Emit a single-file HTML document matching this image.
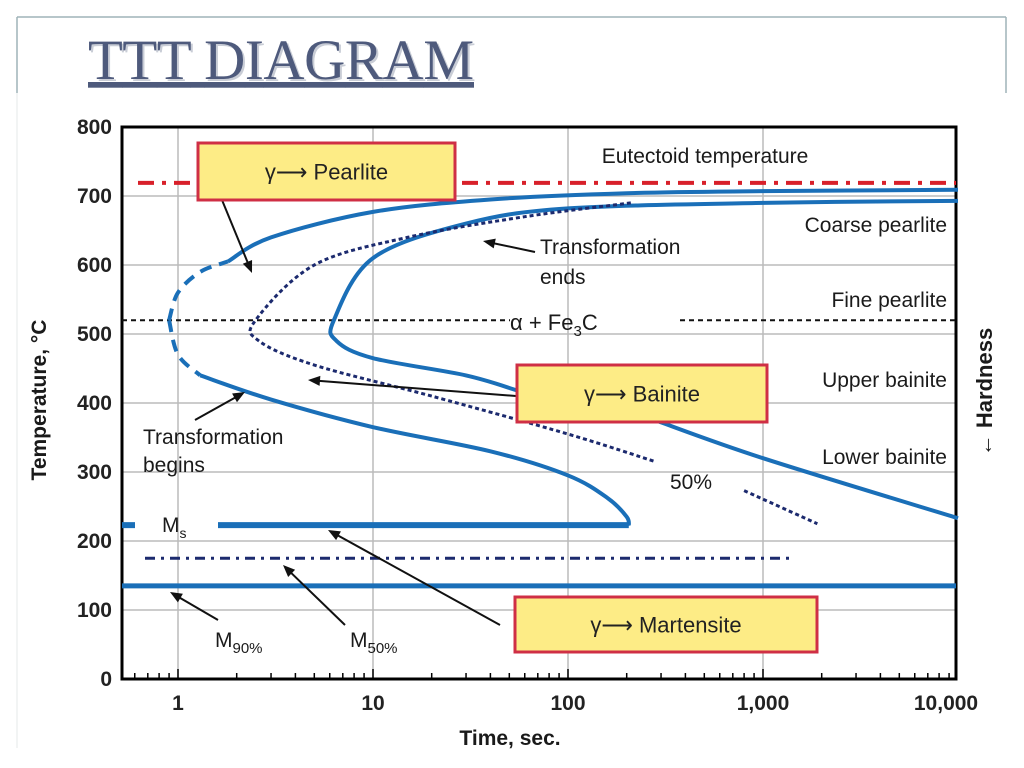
<!DOCTYPE html>
<html><head><meta charset="utf-8"><style>
body{margin:0;background:#fff;width:1024px;height:768px;overflow:hidden;font-family:"Liberation Sans",Arial,sans-serif}
svg{position:absolute;left:0;top:0}
</style></head><body>
<svg id="c" width="1024" height="768">
<line x1="17" y1="17" x2="1006" y2="17" stroke="#9fb3b8" stroke-width="1.5"/>
<line x1="17" y1="17" x2="17" y2="93" stroke="#9fb3b8" stroke-width="1.5"/>
<line x1="1006" y1="17" x2="1006" y2="93" stroke="#9fb3b8" stroke-width="1.5"/>
<line x1="17" y1="93" x2="17" y2="748" stroke="#e4e8ea" stroke-width="1"/>
<text x="90" y="81" font-family="Liberation Serif,serif" font-size="57" fill="#c9cdd6" textLength="386">TTT DIAGRAM</text>
<text x="88" y="79" font-family="Liberation Serif,serif" font-size="57" fill="#4e5a7c" textLength="386" text-decoration="underline">TTT DIAGRAM</text>
<g id="grid"></g>
<g id="marks"></g>
<g id="ann"></g>
</svg>
<script>
const ns="http://www.w3.org/2000/svg";
const xTicks=[1,10,100,1000,10000];
const xTickLabels=["1","10","100","1,000","10,000"];
const yTicks=[0,100,200,300,400,500,600,700,800];
const eutectoidT=[719];
const msT=[223];
const m50T=[175];
const m90T=[135];
const alphaFeT=[520];
// curves: times and temperatures
const beginUpperDashT=[0.9,1.0,1.3,1.8];
const beginUpperDashY=[520,560,590,605];
const beginUpperT=[1.8,3,10,40,200,1000,10000];
const beginUpperY=[605,640,677,695,704,707,709];
const beginLowerDashT=[0.9,1.0,1.3];
const beginLowerDashY=[520,470,440];
const beginLowerT=[1.3,3,10,40,100,160,200,205];
const beginLowerY=[440,405,365,330,295,262,235,222];
const endT=[10000,1000,100,30,10,6.3,6.5,10,30,55];
const endY=[693,690,682,660,610,520,490,465,440,418];
const endLowT=[280,1000,10000];
const endLowY=[375,320,233];
const halfT=[210,60,15,5,2.5,2.6,5,20,100,280];
const halfY=[690,670,640,600,520,490,455,410,355,315];
const halfLowT=[800,1900];
const halfLowY=[273,225];

const X0=178,DX=195,Y0=679,KY=0.69;
const sx=t=>X0+DX*Math.log10(t);
const sy=T=>Y0-KY*T;
const L=122,R=956,TOP=127,BOT=679;
function el(tag,a,p,txt){const e=document.createElementNS(ns,tag);for(const k in a)e.setAttribute(k,a[k]);if(txt!==undefined)e.textContent=txt;(p||document.getElementById('marks')).appendChild(e);return e;}
const grid=document.getElementById('grid'),ann=document.getElementById('ann');
xTicks.slice(0,4).forEach((t,i)=>{
  const g=el('line',{x1:sx(t),x2:sx(t),y1:TOP,y2:BOT,stroke:'#bbb','stroke-width':1.5},grid);
  
  
});
yTicks.forEach(T=>{
  if(T>0&&T<800){const g=el('line',{x1:L,x2:R,y1:sy(T),y2:sy(T),stroke:'#bbb','stroke-width':1.5},grid);
  
  }
  const lb=el('text',{x:112,y:sy(T)+7,'text-anchor':'end','font-size':21,fill:'#222','font-weight':'bold'},grid,String(T));
  
  
});
xTicks.forEach((t,i)=>{
  const lb=el('text',{x:sx(t)-(i==4?12:0),y:710,'text-anchor':'middle','font-size':21,fill:'#222','font-weight':'bold'},grid,xTickLabels[i]);
  
  
});
for(let e=-1;e<4;e++)for(let m=1;m<10;m++){const t=m*Math.pow(10,e);if(t<0.55||t>10000)continue;
  const tk=el('line',{x1:sx(t),x2:sx(t),y1:BOT,y2:BOT-(m==1?10:6),stroke:'#000','stroke-width':1.5},grid);
  
  }
const fr=el('rect',{x:L,y:TOP,width:R-L,height:BOT-TOP,fill:'none',stroke:'#000','stroke-width':3},grid);



function path(ts,Ts,style,name){
  const pts=ts.map((t,i)=>[sx(t),sy(Ts[i])]);
  let d='M'+pts[0][0]+','+pts[0][1];
  for(let i=0;i<pts.length-1;i++){const p0=pts[i-1]||pts[i],p1=pts[i],p2=pts[i+1],p3=pts[i+2]||p2;
    d+=' C'+(p1[0]+(p2[0]-p0[0])/6)+','+(p1[1]+(p2[1]-p0[1])/6)+' '+(p2[0]-(p3[0]-p1[0])/6)+','+(p2[1]-(p3[1]-p1[1])/6)+' '+p2[0]+','+p2[1];}
  const e=el('path',Object.assign({d:d,fill:'none'},style));
  
  
}
const blue={stroke:'#1a6fb8','stroke-width':4};
const navy={stroke:'#1c2a6e','stroke-width':3,'stroke-dasharray':'4 3'};
function hline(T,x1,x2,style,name){const e=el('line',Object.assign({x1:x1,x2:x2,y1:sy(T),y2:sy(T)},style));
  
  }
hline(alphaFeT[0],L,510,{stroke:'#111','stroke-width':2,'stroke-dasharray':'5 4'},'fine-dotted-line-left');
hline(alphaFeT[0],680,R,{stroke:'#111','stroke-width':2,'stroke-dasharray':'5 4'},'fine-dotted-line-right');
hline(eutectoidT[0],138,R,{stroke:'#d8202a','stroke-width':4,'stroke-dasharray':'16 8 4 8'},'eutectoid-line');
path(beginUpperDashT,beginUpperDashY,Object.assign({'stroke-dasharray':'12 8'},blue),'begin-curve-dashed-upper');
path(beginUpperT,beginUpperY,blue,'begin-curve-upper');
path(beginLowerDashT,beginLowerDashY,Object.assign({'stroke-dasharray':'12 8'},blue),'begin-curve-dashed-lower');
path(beginLowerT,beginLowerY,blue,'begin-curve-lower');
path(endT,endY,blue,'end-curve');
path(endLowT,endLowY,blue,'end-curve-lower');
path(halfT,halfY,navy,'fifty-percent-curve');
path(halfLowT,halfLowY,navy,'fifty-percent-curve-lower');
hline(msT[0],122,135,{stroke:'#1a6fb8','stroke-width':6},'ms-line-stub');
hline(msT[0],218,sx(205),{stroke:'#1a6fb8','stroke-width':6},'ms-line');
hline(m50T[0],145,795,{stroke:'#1c2a6e','stroke-width':3,'stroke-dasharray':'10 6 3 6'},'m50-line');
hline(m90T[0],L,R,{stroke:'#1a6fb8','stroke-width':5},'m90-line');

function box(x,y,w,h,label,name){
  const r=el('rect',{x:x,y:y,width:w,height:h,fill:'#fdec86',stroke:'#cf2f45','stroke-width':3},ann);
  
  
  const t=el('text',{x:x+w/2,y:y+h/2+8,'text-anchor':'middle','font-size':22,fill:'#222'},ann,label);
  
  
}
function arrow(x1,y1,x2,y2,name){
  const a=Math.atan2(y2-y1,x2-x1),s=12;
  const g=el('g',{},ann);
  
  
  el('line',{x1:x1,y1:y1,x2:x2-Math.cos(a)*s*0.8,y2:y2-Math.sin(a)*s*0.8,stroke:'#111','stroke-width':2},g);
  el('polygon',{points:`${x2},${y2} ${x2-s*Math.cos(a)+5*Math.sin(a)},${y2-s*Math.sin(a)-5*Math.cos(a)} ${x2-s*Math.cos(a)-5*Math.sin(a)},${y2-s*Math.sin(a)+5*Math.cos(a)}`,fill:'#111'},g);
}
arrow(222,200,252,273,'pearlite-arrow');
arrow(535,252,483,241,'transformation-ends-arrow');
arrow(516,396,308,380,'bainite-arrow');
arrow(195,420,245,392,'transformation-begins-arrow');
arrow(500,625,328,530,'martensite-arrow');
arrow(218,620,170,592,'m90-arrow');
arrow(345,625,283,565,'m50-arrow');
box(198,143,257,57,'γ⟶ Pearlite','pearlite-box');
box(517,365,250,57,'γ⟶ Bainite','bainite-box');
box(515,597,302,55,'γ⟶ Martensite','martensite-box');
function txt(x,y,s,name,anchor,size){const t=el('text',{x:x,y:y,'text-anchor':anchor||'start','font-size':size||21,fill:'#1a1a1a'},ann,s);
  
  return t;}
txt(705,163,'Eutectoid temperature','eutectoid-label','middle');
txt(947,232,'Coarse pearlite','coarse-pearlite-label','end');
txt(540,254,'Transformation','transformation-ends-label');
txt(540,284,'ends','transformation-ends-label-2');
txt(947,307,'Fine pearlite','fine-pearlite-label','end');
const af=txt(510,330,'α + Fe','alpha-fe3c-label','start',22);
const sub=document.createElementNS(ns,'tspan');sub.setAttribute('font-size',15);sub.setAttribute('dy',6);sub.textContent='3';af.appendChild(sub);
const c=document.createElementNS(ns,'tspan');c.setAttribute('dy',-6);c.textContent='C';af.appendChild(c);
txt(947,387,'Upper bainite','upper-bainite-label','end');
txt(947,464,'Lower bainite','lower-bainite-label','end');
txt(670,489,'50%','fifty-percent-label');
txt(143,444,'Transformation','transformation-begins-label');
txt(143,472,'begins','transformation-begins-label-2');
const ms=txt(162,532,'M','ms-label');const s1=document.createElementNS(ns,'tspan');s1.setAttribute('font-size',14);s1.setAttribute('dy',6);s1.textContent='s';ms.appendChild(s1);
const m9=txt(215,647,'M','m90-label');const s2=document.createElementNS(ns,'tspan');s2.setAttribute('font-size',15);s2.setAttribute('dy',6);s2.textContent='90%';m9.appendChild(s2);
const m5=txt(350,647,'M','m50-label');const s3=document.createElementNS(ns,'tspan');s3.setAttribute('font-size',15);s3.setAttribute('dy',6);s3.textContent='50%';m5.appendChild(s3);
const xl=txt(510,745,'Time, sec.','x-axis-title','middle',21);xl.setAttribute('font-weight','bold');
const yl=txt(0,0,'Temperature, °C','y-axis-title','middle',21);yl.setAttribute('font-weight','bold');yl.setAttribute('transform','translate(46,400) rotate(-90)');
const hd=txt(0,0,'← Hardness','hardness-label','middle',22);hd.setAttribute('font-weight','bold');hd.setAttribute('transform','translate(992,392) rotate(-90)');
</script>
</body></html>
